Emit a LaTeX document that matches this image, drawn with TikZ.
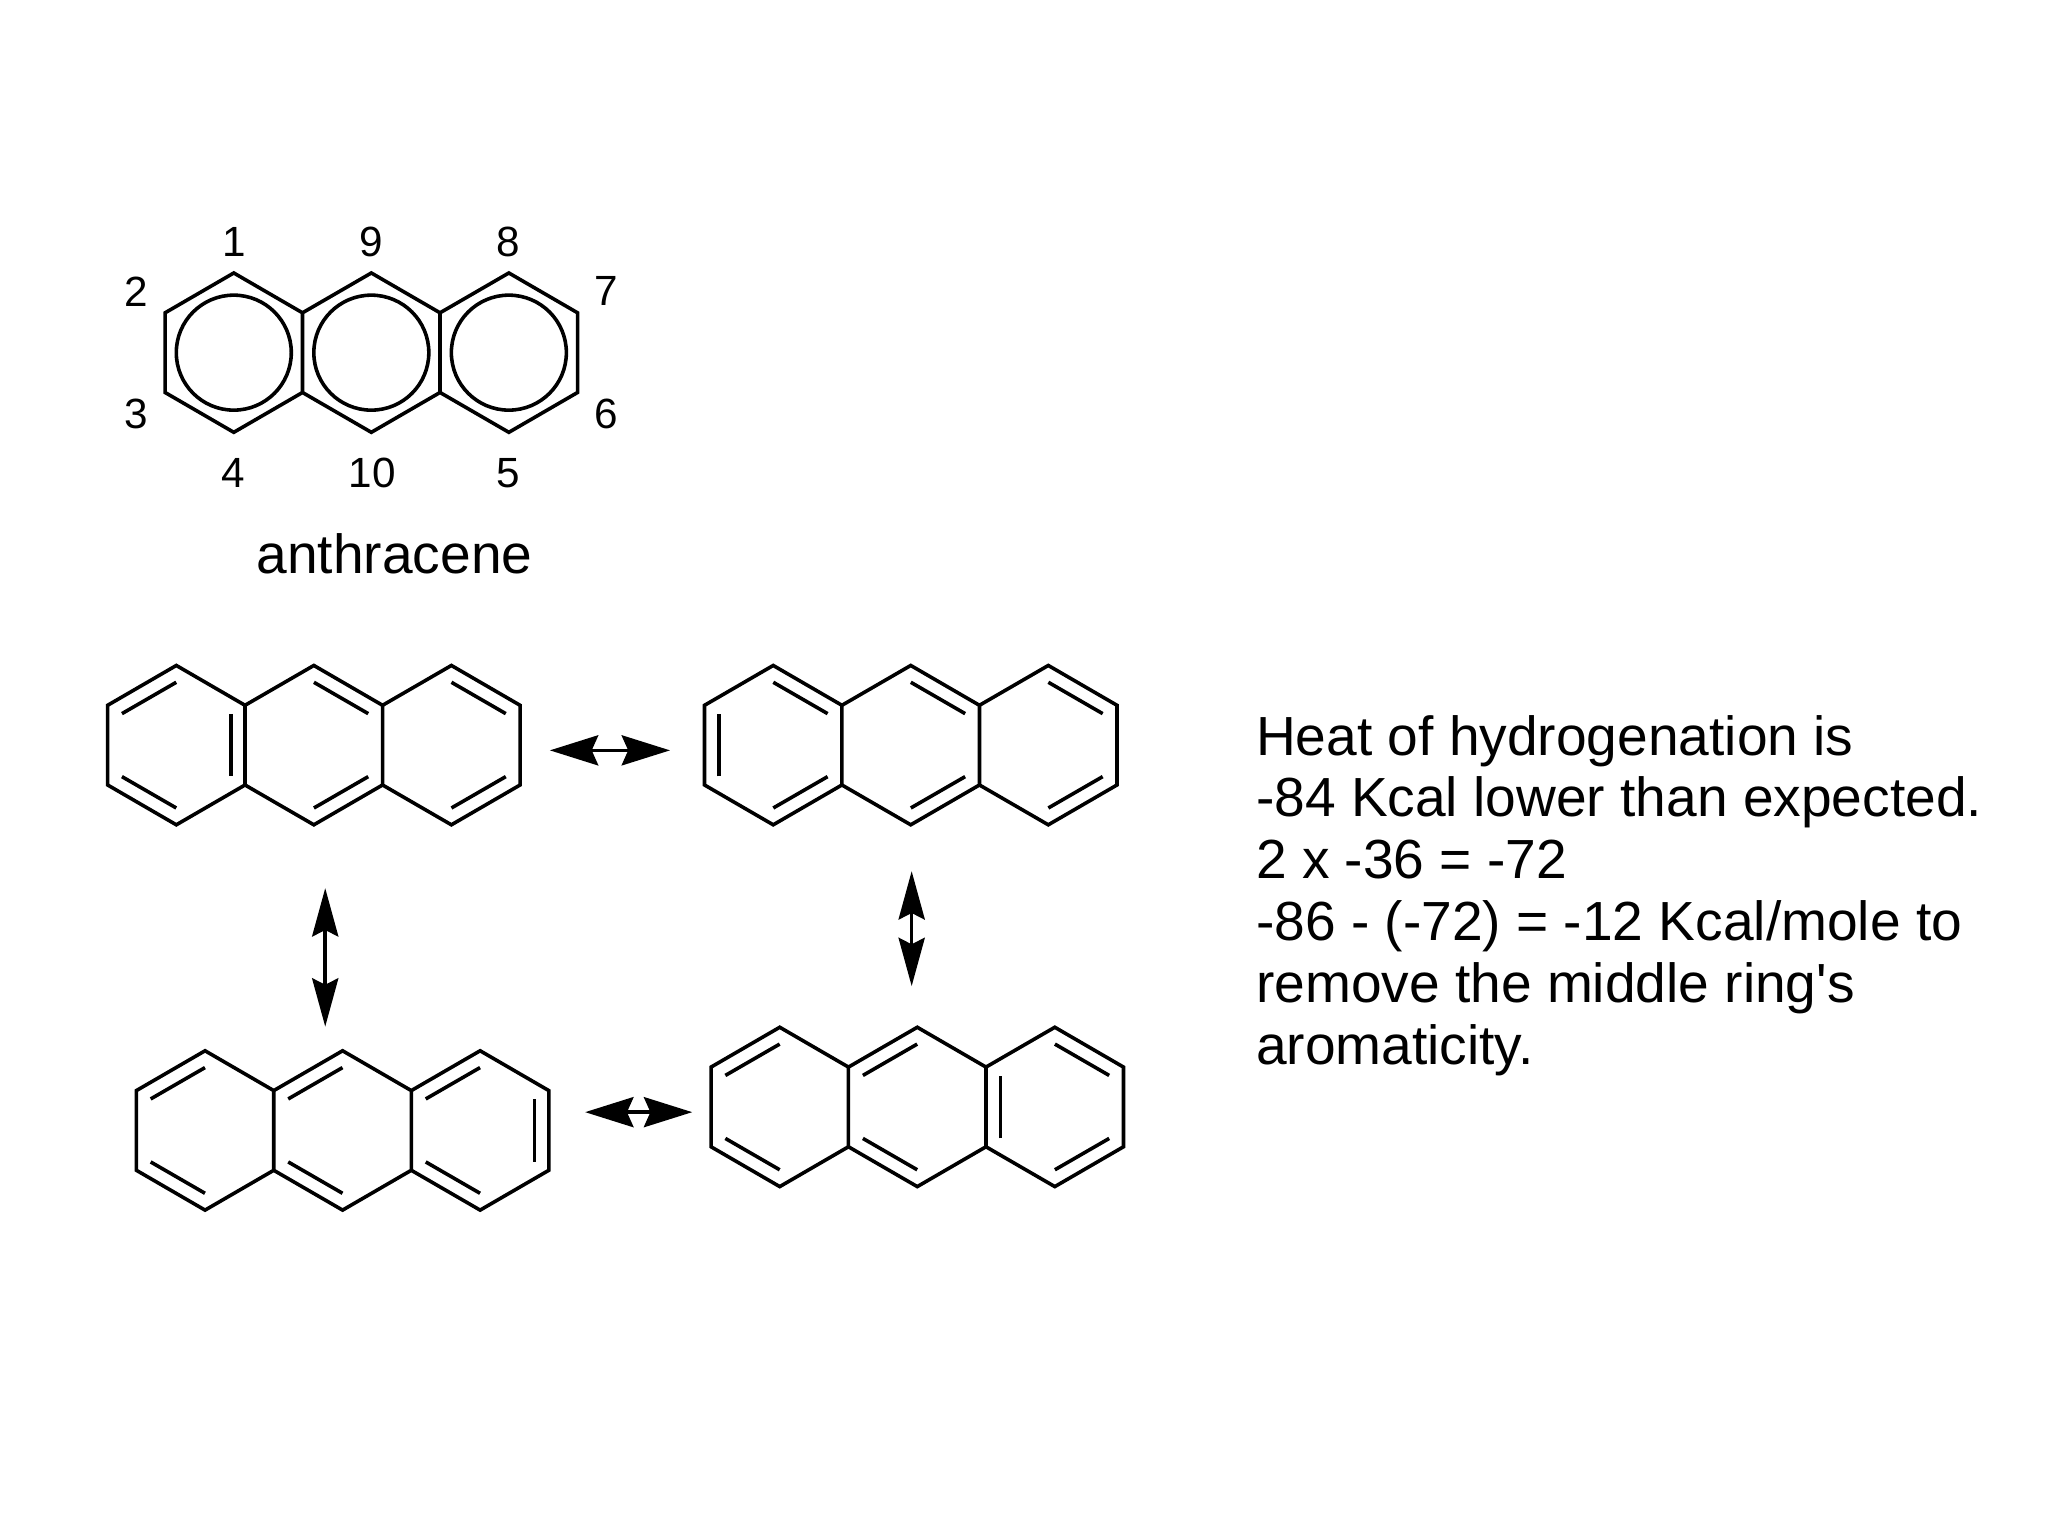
\documentclass[tikz,border=0pt]{standalone}
\usepackage{fontspec}
\setmainfont{Liberation Sans}
\newfontfamily\straightfont{Liberation Sans}
\usetikzlibrary{arrows.meta}
\def\skeleton{(-52.6,-30.5) -- (0,-61) -- (52.6,-30.5) -- (105.3,-61) -- (157.9,-30.5) -- (210.6,-61) -- (263.2,-30.5) -- (263.2,30.5) -- (210.6,61) -- (157.9,30.5) -- (105.3,61) -- (52.6,30.5) -- (0,61) -- (-52.6,30.5) -- cycle (52.6,-30.5) -- (52.6,30.5) (157.9,-30.5) -- (157.9,30.5)}
\def\bonds#1{\foreach \ring/\ang in {#1} \draw[xshift=\ring*.01cm,rotate=\ang] (41.7,-24) -- (41.7,24);}
\tikzset{
	bondline/.style={line width=.78pt,line join=miter},
	numlabel/.style={font=\fontsize{9.2}{11}\selectfont,inner sep=0pt},
	resonance/.style={{Stealth[length=.37cm,width=#1,inset=.05cm]}-{Stealth[length=.37cm,width=#1,inset=.05cm]},line width=.78pt},
	resonance/.default=.23cm
}

\begin{document}
\begin{tikzpicture}[x=.01cm,y=-.01cm]
	\useasboundingbox (0,0) rectangle (1568,1176);
	\begin{scope}[shift={(179,270)},bondline]
		\draw \skeleton;
		\foreach \ring in {0,105.3,210.6}
			\draw (\ring,0) circle (.44cm);
	\end{scope}
	\node[numlabel] (n1) at (179,185) {1};
	\node[numlabel] (n2) at (104.5,223) {2};
	\node[numlabel] (n3) at (104.5,317) {3};
	\node[numlabel] (n4) at (178.5,362) {4};
	\node[numlabel] (n5) at (389.5,362) {5};
	\node[numlabel] (n6) at (464,317) {6};
	\node[numlabel] (n7) at (464,223) {7};
	\node[numlabel] (n8) at (389.5,185) {8};
	\node[numlabel] (n9) at (284.5,185) {9};
	\node[numlabel] (n10) at (285,362) {10};
	\node[font=\fontsize{12}{14}\selectfont,inner sep=0pt] (name) at (302,424) {anthracene};
	\begin{scope}[shift={(135,570.5)},bondline]
		\draw \skeleton;
		\bonds{0/120,0/240,0/0,105.3/60,105.3/300,210.6/60,210.6/300}
	\end{scope}
	\begin{scope}[shift={(592,570.5)},bondline]
		\draw \skeleton;
		\bonds{0/60,0/180,0/300,105.3/60,105.3/300,210.6/60,210.6/300}
	\end{scope}
	\begin{scope}[shift={(157,865.5)},bondline]
		\draw \skeleton;
		\bonds{0/120,0/240,105.3/120,105.3/240,210.6/120,210.6/240,210.6/0}
	\end{scope}
	\begin{scope}[shift={(597,847.5)},bondline]
		\draw \skeleton;
		\bonds{0/120,0/240,105.3/120,105.3/240,210.6/180,210.6/60,210.6/300}
	\end{scope}
	\coordinate (topL) at (421,574.5);
	\coordinate (topR) at (513,574.5);
	\coordinate (botL) at (448,851.5);
	\coordinate (botR) at (530,851.5);
	\coordinate (leftT) at (249,680);
	\coordinate (leftB) at (249,786);
	\coordinate (rightT) at (698,667);
	\coordinate (rightB) at (698,755);
	\draw[resonance] (topL) -- (topR);
	\draw[resonance] (botL) -- (botR);
	\draw[resonance=.2cm] (leftT) -- (leftB);
	\draw[resonance=.2cm] (rightT) -- (rightB);
	\node[anchor=west,align=left,inner sep=0pt,font=\straightfont\fontsize{12}{13.45}\selectfont] (heat) at (961,685.5) {Heat of hydrogenation is\\-84 Kcal lower than expected.\\2 x -36 = -72\\-86 - (-72) = -12 Kcal/mole to\\remove the middle ring's\\aromaticity.};
\end{tikzpicture}
\end{document}
